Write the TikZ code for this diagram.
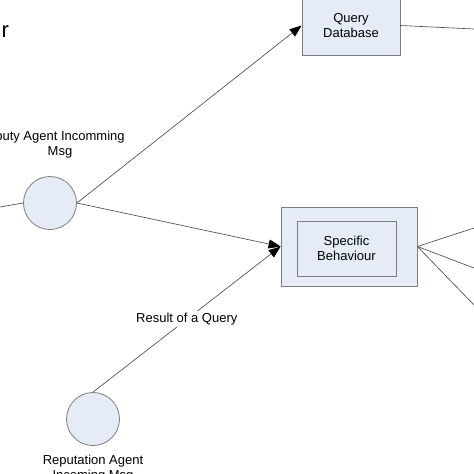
\documentclass[tikz,border=0pt]{standalone}
\usepackage{fontspec}
\setmainfont{Liberation Sans}
\usetikzlibrary{positioning,arrows.meta}
\definecolor{boxfill}{RGB}{230,236,247}
\definecolor{boxline}{RGB}{125,125,128}
\begin{document}
\begin{tikzpicture}[x=1pt,y=-1pt,
box/.style={draw=boxline,fill=boxfill,line width=.8pt,rectangle,inner sep=0pt,align=center,
    font=\fontsize{13}{14.8}\selectfont},
agent/.style={draw=boxline,fill=boxfill,line width=.8pt,circle,minimum size=53pt,inner sep=0pt},
txt/.style={align=center,inner sep=0pt,font=\fontsize{13}{14.8}\selectfont},
link/.style={draw=black!70,line width=.65pt},
msg/.style={link,-{Triangle[length=12pt,width=9pt,black]}}]
\useasboundingbox (0,0) rectangle (474,474);
\node (title) [anchor=base west,inner sep=0pt,font=\fontsize{22}{26}\selectfont] at (1.5,37) {r};

\node (qdb) [box,minimum width=98pt,minimum height=59pt] at (351,25.5) {Query\\Database};
\node (sb) [box,minimum width=136pt,minimum height=79pt] at (349,246.5) {};
\node (sbin) [box,minimum width=99pt,minimum height=55pt] at (346.5,248.5) {Specific\\Behaviour};

\node (bag) [agent] at (50,203) {};
\node (baglbl) [txt] at (60,144.5) {buty Agent Incomming\\Msg};
\node (rag) [agent] at (93,419) {};
\node (raglbl) [txt,below=9pt of rag] {Reputation Agent\\Incoming Msg};

\coordinate (inleft) at (0,207);
\coordinate (outqdb) at (474,29);
\coordinate (outa) at (474,228);
\coordinate (outb) at (474,268);
\coordinate (outc) at (474,305);

\draw [link] (inleft) -- (bag.west);
\draw [msg] (bag.east) -- (qdb.west);
\draw [msg] (bag.east) -- (sb.west);
\draw [msg] (rag.north) -- node [txt,fill=white,inner sep=2pt] {Result of a Query} (sb.west);
\draw [link] (qdb.east) -- (outqdb);
\draw [link] (sb.east) -- (outa);
\draw [link] (sb.east) -- (outb);
\draw [link] (sb.east) -- (outc);
\end{tikzpicture}
\end{document}
